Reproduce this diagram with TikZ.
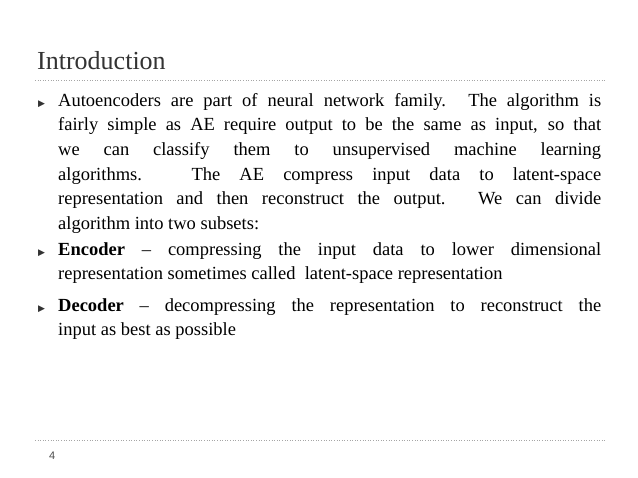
\documentclass[tikz,border=0pt]{standalone}
\usepackage{fontspec}
\setmainfont{Liberation Serif}
\newfontfamily\symf{DejaVu Sans}
\newfontfamily\sansf{Liberation Sans}
\begin{document}
\begin{tikzpicture}[x=1pt,y=-1pt,
  body/.style={anchor=north west,inner sep=0pt,text width=543pt,align=justify,font=\fontsize{18.5}{24.6}\selectfont,text=black},
  bul/.style={anchor=base west,inner sep=0pt,font=\symf\fontsize{9}{9}\selectfont,text=black!80},
  rule/.style={draw=black!35,dotted,line width=0.6pt}]
\useasboundingbox (0,0) rectangle (638,478);
\fill[white] (0,0) rectangle (638,478);
\node[anchor=base west,inner sep=0pt,font=\fontsize{26}{26}\selectfont,text=black!80] (title) at (37,70) {Introduction};
\coordinate (r1a) at (35,80); \coordinate (r1b) at (605,80);
\draw[rule] (r1a) -- (r1b);
\coordinate (r2a) at (35,440); \coordinate (r2b) at (605,440);
\draw[rule] (r2a) -- (r2b);
\node[anchor=base west,inner sep=0pt,font=\sansf\fontsize{11}{11}\selectfont,text=black!70] (pg) at (49,460) {4};
\node[bul] (b1) at (38,107) {▶};
\node[body] (t1) at (58,93) {Autoencoders are part of neural network family. The algorithm is\linebreak fairly simple as AE require output to be the same as input, so that\linebreak we can classify them to unsupervised machine learning\linebreak algorithms. The AE compress input data to latent-space\linebreak representation and then reconstruct the output. We can divide\linebreak algorithm into two subsets:};
\node[bul] (b2) at (38,256) {▶};
\node[body] (t2) at (58,242) {\textbf{Encoder} -- compressing the input data to lower dimensional\linebreak representation sometimes called\ \ latent-space representation};
\node[bul] (b3) at (38,312) {▶};
\node[body] (t3) at (58,298) {\textbf{Decoder} -- decompressing the representation to reconstruct the\linebreak input as best as possible};
\end{tikzpicture}
\end{document}
